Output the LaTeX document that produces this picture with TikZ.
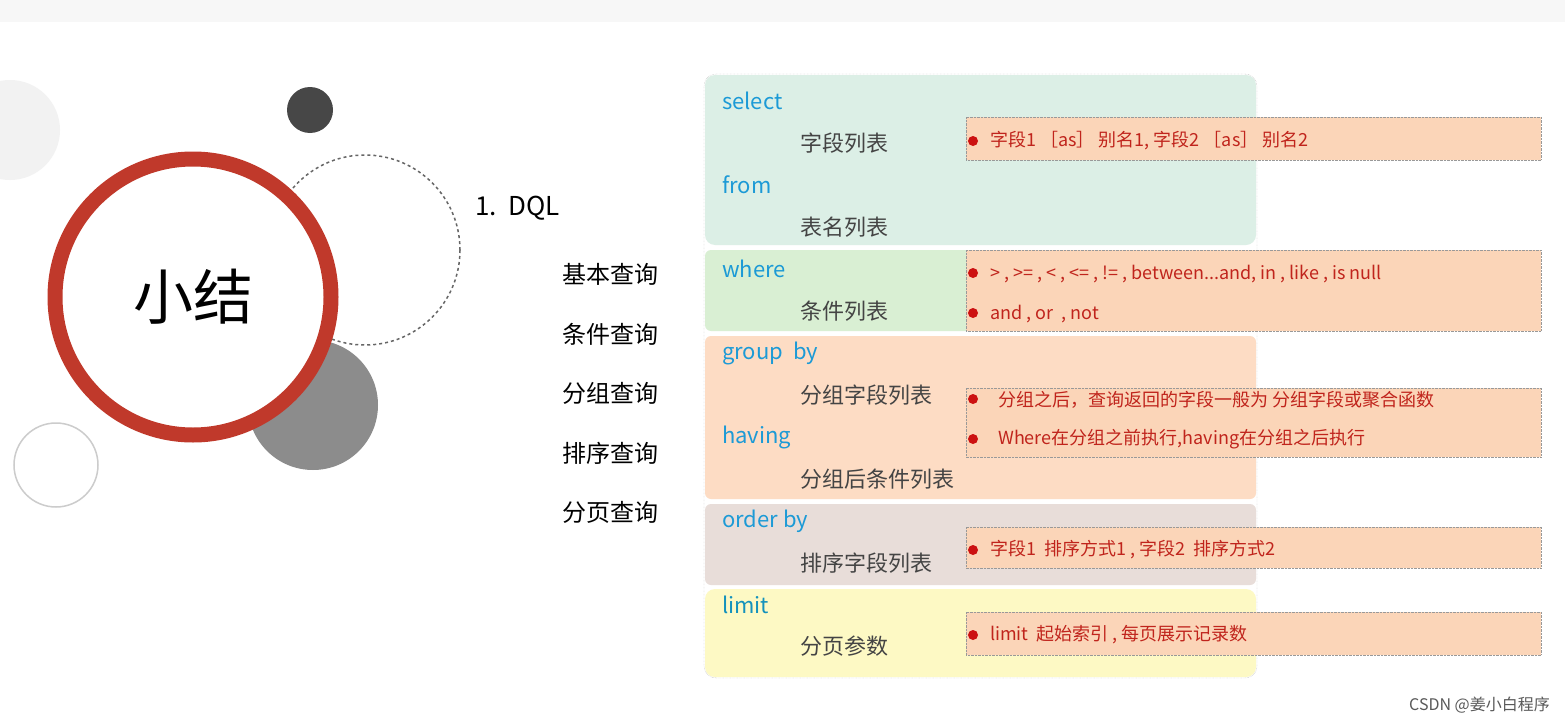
\documentclass[tikz,border=0pt]{standalone}
\usepackage{fontspec}
\newfontfamily\cjk{Noto Sans CJK SC}
\begin{document}
\begin{tikzpicture}[x=1pt,y=-1pt,
  kw/.style={anchor=west,text=kwblue,font=\cjk\fontsize{22}{24}\selectfont,inner sep=0},
  sub/.style={anchor=west,text=subgray,font=\cjk\fontsize{22}{24}\selectfont,inner sep=0},
  lbl/.style={anchor=west,text=black,font=\cjk\fontsize{24}{26}\selectfont,inner sep=0},
  note/.style={draw=gray!80,densely dotted,fill=notefill},
  nt/.style={anchor=west,text=notered,font=\cjk\fontsize{18}{20}\selectfont,inner sep=0},
  bul/.style={circle,fill=bulred,inner sep=0,minimum size=10pt}]
\definecolor{kwblue}{HTML}{1C9AD6}
\definecolor{subgray}{HTML}{444444}
\definecolor{notefill}{HTML}{FBD5B8}
\definecolor{notered}{HTML}{C0241C}
\definecolor{bulred}{HTML}{CC1111}
\definecolor{ringred}{HTML}{C0392B}
\useasboundingbox (0,0) rectangle (1565,725);
\fill[white] (0,0) rectangle (1565,725);
\fill[gray!6] (0,0) rectangle (1565,22);
% circles
\fill[gray!10] (10,130) circle (50);
\fill[black!72] (310,110) circle (23);
\draw[gray!80!black,dashed,line width=1.5pt] (365,250) circle (95);
\fill[black!45] (313,405) circle (65);
\draw[gray!40,line width=1.5pt] (56,465) circle (42);
\draw[ringred,line width=15pt,fill=white] (193,297) circle (138);
\node[font=\cjk\fontsize{60}{64}\selectfont] (title) at (193,297) {小结};
\node[anchor=west,font=\cjk\fontsize{26}{28}\selectfont,inner sep=0] (dql) at (475,208) {1.\ \ DQL};
\node[lbl] (l1) at (562,274) {基本查询};
\node[lbl] (l2) at (562,334) {条件查询};
\node[lbl] (l3) at (562,393) {分组查询};
\node[lbl] (l4) at (562,453) {排序查询};
\node[lbl] (l5) at (562,512) {分页查询};
% sections
\fill[rounded corners=12pt,fill=white] (703,73) rectangle (1258,679);
\fill[rounded corners=10pt,fill={rgb,255:red,220;green,239;blue,230}] (705,75) rectangle (1256,245);
\fill[rounded corners=6pt,fill={rgb,255:red,217;green,239;blue,211}] (705,250) rectangle (1256,331);
\fill[rounded corners=6pt,fill={rgb,255:red,253;green,220;blue,196}] (705,336) rectangle (1256,499);
\fill[rounded corners=6pt,fill={rgb,255:red,232;green,221;blue,217}] (705,504) rectangle (1256,585);
\fill[rounded corners=10pt,fill={rgb,255:red,253;green,249;blue,196}] (705,589) rectangle (1256,677);
\draw[rounded corners=12pt,gray!70,densely dotted] (704,74) rectangle (1257,678);
\node[kw] (k1) at (722,101) {select};
\node[sub] (s1) at (800,143) {字段列表};
\node[kw] (k2) at (722,185) {from};
\node[sub] (s2) at (800,227) {表名列表};
\node[kw] (k3) at (722,269) {where};
\node[sub] (s3) at (800,311) {条件列表};
\node[kw] (k4) at (722,353) {group\ \ by};
\node[sub] (s4) at (800,395) {分组字段列表};
\node[kw] (k5) at (722,437) {having};
\node[sub] (s5) at (800,479) {分组后条件列表};
\node[kw] (k6) at (722,521) {order by};
\node[sub] (s6) at (800,563) {排序字段列表};
\node[kw,text=kwblue!70!teal] (k7) at (722,605) {limit};
\node[sub] (s7) at (800,646) {分页参数};
% notes
\draw[note] (966,117) rectangle (1541,160);
\draw[note] (966,250) rectangle (1541,331);
\draw[note] (966,388) rectangle (1541,457);
\draw[note] (966,527) rectangle (1541,568);
\draw[note] (966,612) rectangle (1541,655);
\node[bul] (b1) at (973,141) {}; \node[nt] (n1) at (990,141) {字段1 ［as］ 别名1, 字段2 ［as］ 别名2};
\node[bul] (b2) at (973,273) {}; \node[nt] (n2) at (990,274) {> , >= , < , <= , != , between...and, in , like , is null};
\node[bul] (b3) at (973,313) {}; \node[nt] (n3) at (990,314) {and , or \ , not};
\node[bul] (b4) at (973,399) {}; \node[nt] (n4) at (998,400) {分组之后，查询返回的字段一般为 分组字段或聚合函数};
\node[bul] (b5) at (973,439) {}; \node[nt] (n5) at (998,439) {Where在分组之前执行,having在分组之后执行};
\node[bul] (b6) at (973,550) {}; \node[nt] (n6) at (990,550) {字段1\ \ 排序方式1 , 字段2\ \ 排序方式2};
\node[bul] (b7) at (973,635) {}; \node[nt] (n7) at (990,635) {limit\ \ 起始索引 , 每页展示记录数};
\node[anchor=east,text=gray!70!black,font=\cjk\fontsize{16}{18}\selectfont,inner sep=0] (wm) at (1550,705) {CSDN @姜小白程序};
\end{tikzpicture}
\end{document}
